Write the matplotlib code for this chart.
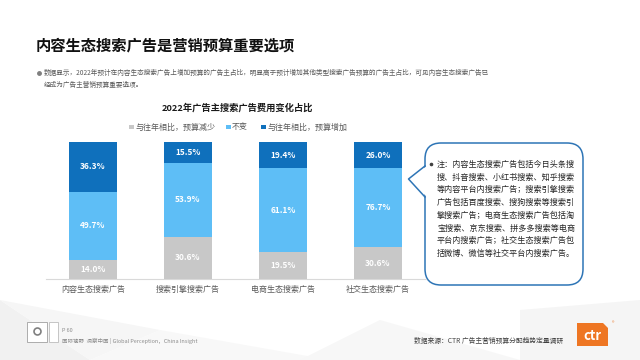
import matplotlib
matplotlib.use("Agg")
import matplotlib.pyplot as plt
from matplotlib.patches import FancyBboxPatch, Polygon, Rectangle
from matplotlib.lines import Line2D
import numpy as np

plt.rcParams['font.family'] = ['Noto Sans CJK SC', 'DejaVu Sans']
plt.rcParams['axes.unicode_minus'] = False

# 数据
categories = ['内容生态搜索广告', '搜索引擎搜索广告', '电商生态搜索广告', '社交生态搜索广告']
series_names = ['与往年相比，预算减少', '不变', '与往年相比，预算增加']
decrease = [14.0, 30.6, 19.5, 30.6]
unchanged = [49.7, 53.9, 61.1, 76.7]
increase = [36.3, 15.5, 19.4, 26.0]

colors = ['#C8C8C8', '#5EBEF6', '#0F70BC']

title = '内容生态搜索广告是营销预算重要选项'
summary = ['数据显示，2022年预计在内容生态搜索广告上增加预算的广告主占比，明显高于预计增加其他类型搜索广告预算的广告主占比，可见内容生态搜索广告已',
           '经成为广告主营销预算重要选项。']
chart_title = '2022年广告主搜索广告费用变化占比'
note_lines = ['注：内容生态搜索广告包括今日头条搜',
              '搜、抖音搜索、小红书搜索、知乎搜索',
              '等内容平台内搜索广告；搜索引擎搜索',
              '广告包括百度搜索、搜狗搜索等搜索引',
              '擎搜索广告；电商生态搜索广告包括淘',
              '宝搜索、京东搜索、拼多多搜索等电商',
              '平台内搜索广告；社交生态搜索广告包',
              '括微博、微信等社交平台内搜索广告。']
source = '数据来源：CTR 广告主营销预算分配趋势定量调研'

W, H = 640, 360
fig = plt.figure(figsize=(6.4, 3.6), dpi=100)
fig.patch.set_facecolor('white')

# 背景层，像素坐标
bg = fig.add_axes([0, 0, 1, 1])
bg.set_xlim(0, W)
bg.set_ylim(H, 0)
bg.axis('off')

# 底部淡淡的多边形纹理
for pts, c in [([(0, 300), (90, 360), (0, 360)], '#F1F1F1'),
               ([(0, 300), (160, 330), (90, 360)], '#F6F6F6'),
               ([(160, 330), (330, 360), (90, 360)], '#F8F8F8'),
               ([(380, 320), (520, 360), (300, 360)], '#F7F7F7'),
               ([(520, 310), (640, 300), (640, 360), (520, 360)], '#F5F5F5')]:
    bg.add_patch(Polygon(pts, closed=True, facecolor=c, edgecolor='none', zorder=0))

def pt(px):
    return px * 72 / 100

bg.text(36, 45, title, fontsize=pt(15.3), fontweight='bold', color='#111111', va='center', ha='left')
bg.plot([38.5], [73], marker='o', ms=2.5, color='#7F7F7F')
bg.text(44, 73, summary[0], fontsize=pt(6.6), color='#595959', va='center', ha='left')
bg.text(44, 84.5, summary[1], fontsize=pt(6.6), color='#595959', va='center', ha='left')

bg.text(237, 108, chart_title, fontsize=pt(9.3), fontweight='bold', color='#1A1A1A', va='center', ha='center')

# 图例
legend_x = [129, 226, 261]
for lx, name, c in zip(legend_x, series_names, colors):
    bg.add_patch(Rectangle((lx, 124.5), 4.5, 4.5, facecolor=c, edgecolor='none'))
    bg.text(lx + 6, 127, name, fontsize=pt(8), color='#595959', va='center', ha='left')

# 注释气泡
bx0, by0, bx1, by1 = 425, 143, 583, 285
bg.add_patch(FancyBboxPatch((bx0, by0), bx1 - bx0, by1 - by0,
                            boxstyle='round,pad=0,rounding_size=16',
                            facecolor='white', edgecolor='#2E75B6', linewidth=1.1, zorder=2))
bg.add_patch(Polygon([(bx0 + 2, 166), (408.5, 179), (bx0 + 2, 197)], closed=True,
                     facecolor='white', edgecolor='none', zorder=3))
bg.add_line(Line2D([bx0, 408.5, bx0], [166, 179, 197], color='#2E75B6', linewidth=1.1, zorder=4))
bg.plot([431], [164], marker='o', ms=1.6, color='#404040', zorder=5)
for i, line in enumerate(note_lines):
    bg.text(437, 164 + i * 12.8, line, fontsize=pt(8.1), color='#262626',
            va='center', ha='left', zorder=5)

# 页脚
bg.add_patch(Rectangle((27, 322), 20, 20, facecolor='white', edgecolor='#A0A0A0', linewidth=0.6))
bg.add_patch(Rectangle((49, 322), 9, 20, facecolor='white', edgecolor='#B0B0B0', linewidth=0.5))
bg.plot([37], [331], marker='o', ms=5, mfc='white', mec='#808080', mew=1.2)
bg.text(62, 331, 'P 60', fontsize=pt(5.5), color='#8C8C8C', va='center', ha='left')
bg.text(62, 341, '国际视野  洞察中国 | Global Perception，China Insight', fontsize=pt(5.5),
        color='#8C8C8C', va='center', ha='left')
bg.text(414, 340.5, source, fontsize=pt(6.8), color='#404040', va='center', ha='left')
bg.add_patch(Polygon([(577, 323), (603, 323), (608, 328), (608, 346), (577, 346)], closed=True,
                     facecolor='#EE7623', edgecolor='none'))
bg.text(592, 336, 'ctr', fontsize=pt(13), fontweight='bold', color='white', va='center', ha='center')
bg.text(613, 324, '®', fontsize=pt(5), color='#EE7623', va='center', ha='center')

# 柱状图（百分比堆叠）
ax = fig.add_axes([45.5 / W, 1 - 279 / H, 380 / W, (279 - 141.7) / H])
ax.set_facecolor('none')
data = np.array([decrease, unchanged, increase])
shares = data / data.sum(axis=0)
x = np.arange(len(categories))
bottom = np.zeros(len(categories))
for vals, share, c in zip(data, shares, colors):
    ax.bar(x, share, width=0.5, bottom=bottom, color=c, edgecolor='none', zorder=2)
    for xi, v, b, s in zip(x, vals, bottom, share):
        ax.text(xi, b + s / 2, f'{v:.1f}%', ha='center', va='center', color='white',
                fontsize=pt(8.3), fontweight='bold', zorder=3)
    bottom += share

ax.set_xlim(-0.5, 3.5)
ax.set_ylim(0, 1)
ax.set_xticks(x)
ax.set_xticklabels(categories, fontsize=pt(8), color='#595959')
ax.tick_params(axis='x', length=0, pad=4)
ax.set_yticks([])
for s in ['top', 'right', 'left']:
    ax.spines[s].set_visible(False)
ax.spines['bottom'].set_color('#D9D9D9')
ax.spines['bottom'].set_linewidth(0.8)

fig.savefig('out.png', dpi=100)
